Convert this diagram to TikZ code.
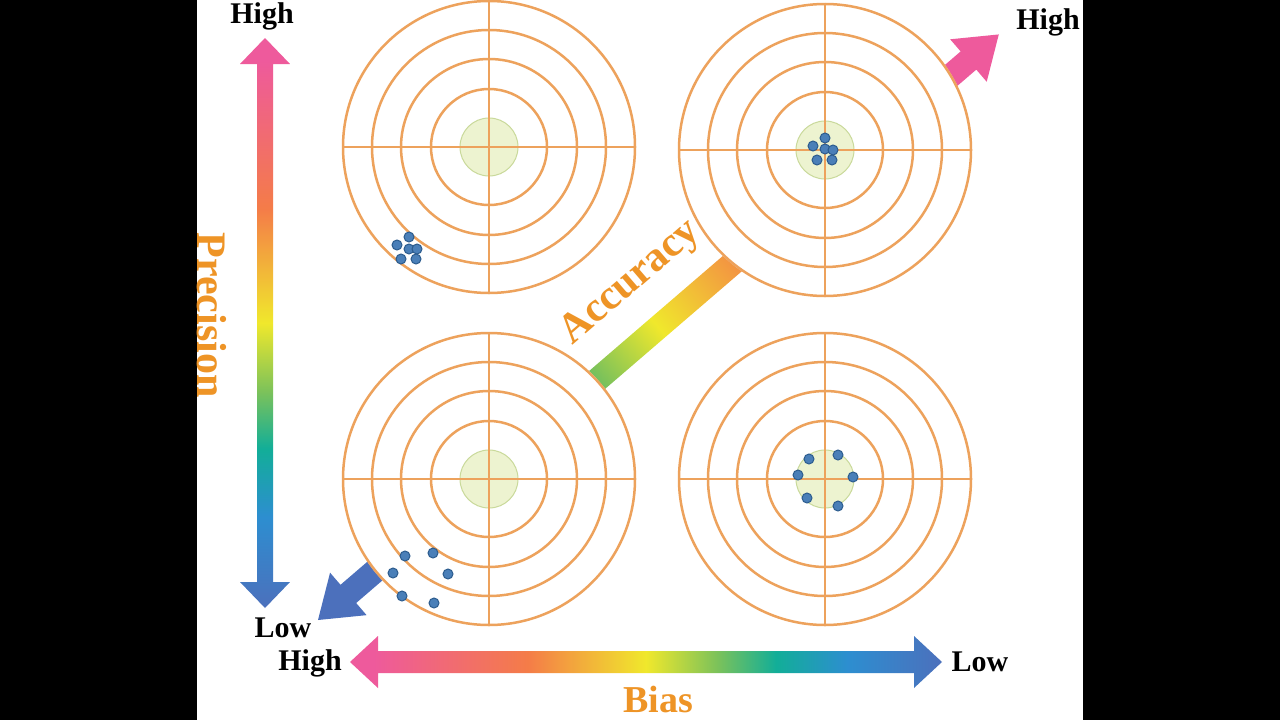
\documentclass[tikz,border=0pt]{standalone}
\usepackage{fontspec}
\setmainfont{Liberation Serif}
\definecolor{cpink}{HTML}{EE5A9C}
\definecolor{corange}{HTML}{F47C48}
\definecolor{cyellow}{HTML}{F0E82C}
\definecolor{cgreen}{HTML}{7CC25A}
\definecolor{cteal}{HTML}{12AE98}
\definecolor{cblue}{HTML}{2D8ED0}
\definecolor{cdblue}{HTML}{4C70BC}
\definecolor{ring}{HTML}{EDA25C}
\definecolor{bull}{HTML}{EDF3D0}
\definecolor{bullb}{HTML}{C9D99A}
\definecolor{dotf}{HTML}{4A7FB8}
\definecolor{dotb}{HTML}{2C5C8E}
\definecolor{txto}{HTML}{EE9426}
\pgfdeclarehorizontalshading{rainbow}{100bp}{color(0bp)=(cpink); color(27bp)=(cpink); color(40bp)=(corange); color(50bp)=(cyellow); color(56bp)=(cgreen); color(61bp)=(cteal); color(67bp)=(cblue); color(75bp)=(cdblue); color(100bp)=(cdblue)}
\newcommand\dblarrow[4]{(0,0) -- (#4,#3/2) -- (#4,#2/2) -- (#1-#4,#2/2) -- (#1-#4,#3/2) -- (#1,0) -- (#1-#4,-#3/2) -- (#1-#4,-#2/2) -- (#4,-#2/2) -- (#4,-#3/2) -- cycle}
\tikzset{
  lab/.style={font=\bfseries\fontsize{30}{32}\selectfont, inner sep=0},
  big/.style={font=\bfseries\fontsize{42}{44}\selectfont, text=txto, inner sep=0},
  ringl/.style={draw=ring, line width=2.5pt},
  dot/.style={circle, fill=dotf, draw=dotb, line width=1pt, minimum size=10pt, inner sep=0},
}
\newcommand\target[2]{%
  \begin{scope}[shift={(#1,#2)}]
    \fill[white] (0,0) circle (147);
    \filldraw[fill=bull, draw=bullb, line width=1pt] (0,0) circle (29);
    \foreach \r in {146,117,88,58} \draw[ringl] (0,0) circle (\r);
    \draw[ringl] (-146,0) -- (146,0);
    \draw[ringl] (0,-146) -- (0,146);
  \end{scope}}
\begin{document}
\begin{tikzpicture}[x=1pt,y=-1pt]
\fill[black] (0,0) rectangle (1280,720);
\fill[white] (197,0) rectangle (1083,720);
\useasboundingbox (0,0) rectangle (1280,720);
% horizontal arrow
\begin{scope}[shift={(350,662)}]
  \shade[shading=rainbow] \dblarrow{592}{22}{52}{28};
\end{scope}
% vertical arrow
\begin{scope}[shift={(265,38)}, rotate=-90]
  \shade[shading=rainbow, shading angle=-90] \dblarrow{570}{16}{50}{26};
\end{scope}
% diagonal arrow
\begin{scope}[shift={(318,620)}, rotate=40.7]
  \shade[shading=rainbow, shading angle=220.7] \dblarrow{898}{24}{56}{40};
\end{scope}
\target{489}{147}
\target{825}{150}
\target{489}{479}
\target{825}{479}
\foreach \p in {(409,237),(397,245),(409,249),(417,249),(401,259),(416,259),
  (825,138),(813,146),(825,149),(833,150),(817,160),(832,160),
  (809,459),(838,455),(798,475),(853,477),(807,498),(838,506),
  (405,556),(433,553),(393,573),(448,574),(402,596),(434,603)}
  \node[dot] at \p {};
\node[lab] (h1) at (262,16) {High};
\node[lab] (h2) at (1048,22) {High};
\node[lab] (l1) at (283,628) {Low};
\node[lab] (h3) at (310,663) {High};
\node[lab] (l2) at (980,662) {Low};
\node[big, font=\bfseries\fontsize{38}{40}\selectfont] (bias) at (658,699) {Bias};
\node[big, rotate=-90] (prec) at (212,315) {Precision};
\node[big, rotate=40.7] (acc) at (631,283) {Accuracy};
\end{tikzpicture}
\end{document}
